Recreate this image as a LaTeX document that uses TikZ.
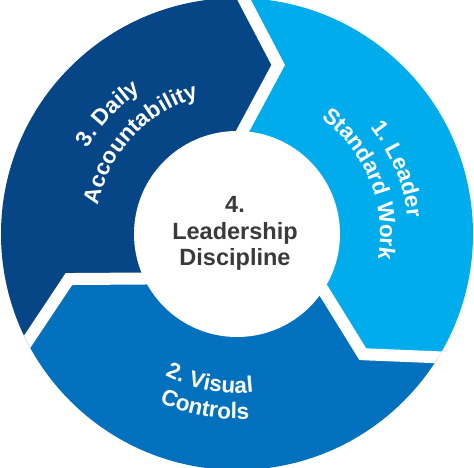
\documentclass[tikz,border=0pt]{standalone}
\usepackage{fontspec}
\setmainfont{Liberation Sans}
\usetikzlibrary{calc,decorations.text}
\definecolor{segdark}{RGB}{6,69,134}
\definecolor{segmid}{RGB}{4,113,190}
\definecolor{seglight}{RGB}{0,172,236}
\definecolor{hubtext}{RGB}{58,58,58}
\newcommand\ringfont{\bfseries\fontsize{22.5pt}{27pt}\selectfont}
\begin{document}
\begin{tikzpicture}[x=1pt,y=1pt,
  gapline/.style={white, line width=12pt, line join=miter, miter limit=10},
  ringtext/.style={decorate, decoration={text along path, text align=center, text color=white, text={|\ringfont|#1}}},
  hubtxt/.style={text=hubtext, font=\bfseries\fontsize{23.5pt}{27pt}\selectfont, inner sep=0pt, anchor=base}]
\fill[white] (-237,-233) rectangle (237,234);
\useasboundingbox (-237,-233) rectangle (237,234);
% chevron boundaries between the segments
\foreach \n/\t in {1/87.6, 2/-32.4, 3/206.3} {
  \coordinate (in\n) at (\t-0.7:103pt);
  \coordinate (v\n) at (\t-11.3:174pt);
  \coordinate (out\n) at (\t+0.9:236pt);
  \coordinate (ine\n) at ($(in\n)!-0.4!(v\n)$);
  \coordinate (oute\n) at ($(out\n)!-0.3!(v\n)$);
}
\begin{scope}
\clip (0,0) circle[radius=236pt];
\fill[segdark] (0,0) -- (ine3) -- (v3) -- (oute3) -- (206.3:400pt) -- (147:450pt) -- (87.6:400pt) -- (oute1) -- (v1) -- (ine1) -- cycle;
\fill[seglight] (0,0) -- (ine1) -- (v1) -- (oute1) -- (87.6:400pt) -- (27.5:450pt) -- (-32.4:400pt) -- (oute2) -- (v2) -- (ine2) -- cycle;
\fill[segmid] (0,0) -- (ine2) -- (v2) -- (oute2) -- (-32.4:400pt) -- (-93:450pt) -- (-153.7:400pt) -- (oute3) -- (v3) -- (ine3) -- cycle;
\draw[gapline] (ine1) -- (v1) -- (oute1);
\draw[gapline] (ine2) -- (v2) -- (oute2);
\draw[gapline] (ine3) -- (v3) -- (oute3);
\end{scope}
\node[circle, fill=white, inner sep=0pt, minimum size=206pt] (hub) at (0,0) {};
% ring labels
\path[ringtext={3. Daily}] (187:172pt) arc[start angle=187, end angle=87, radius=172pt];
\path[ringtext={Accountability}] (187:142pt) arc[start angle=187, end angle=87, radius=142pt];
\path[ringtext={1. Leader}] (72:171pt) arc[start angle=72, end angle=-28, radius=171pt];
\path[ringtext={Standard Work}] (77:143pt) arc[start angle=77, end angle=-33, radius=143pt];
\path[ringtext={2. Visual}] (-150:159pt) arc[start angle=-150, end angle=-51, radius=159pt];
\path[ringtext={Controls}] (-150:185pt) arc[start angle=-150, end angle=-51, radius=185pt];
% hub label
\node[hubtxt] (h1) at (-2,22) {4.};
\node[hubtxt] (h2) at (-2,-5) {Leadership};
\node[hubtxt] (h3) at (-2,-31) {Discipline};
\end{tikzpicture}
\end{document}
